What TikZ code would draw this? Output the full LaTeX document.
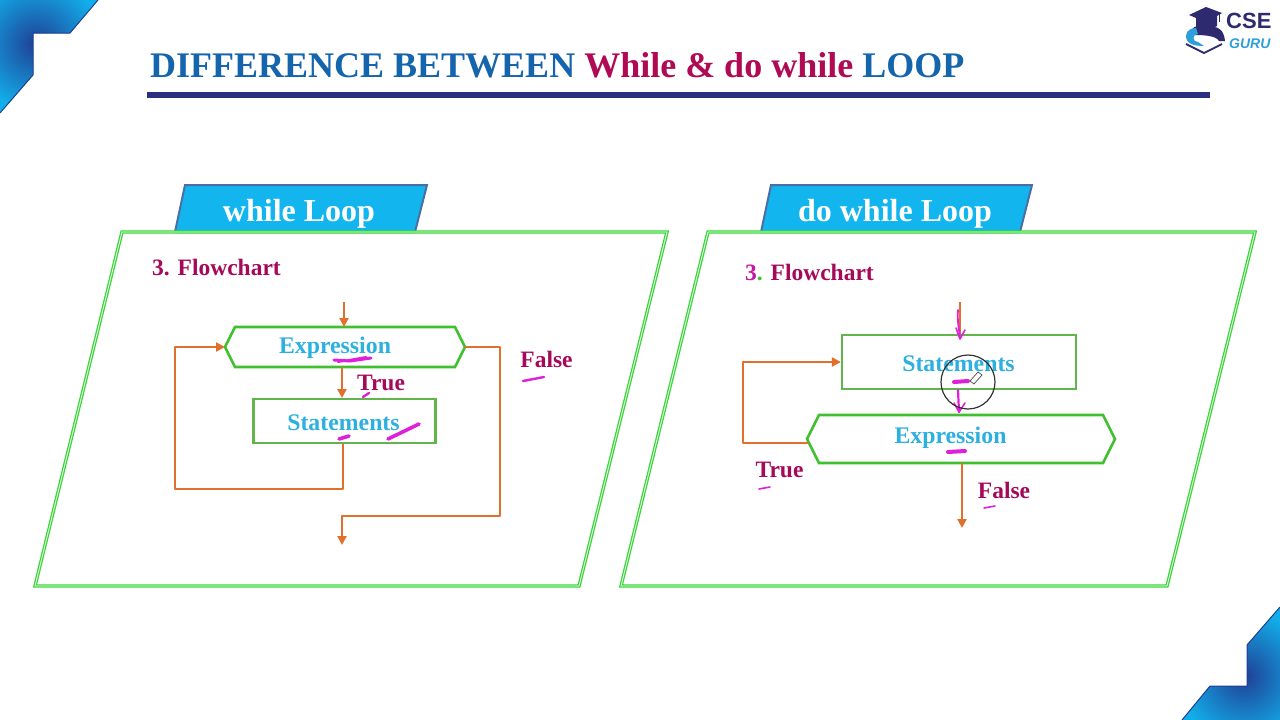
\documentclass[tikz,border=0pt]{standalone}
\usepackage{fontspec}
\setmainfont{Liberation Serif}
\newfontfamily\logosans{Liberation Sans}
\usetikzlibrary{arrows.meta,shapes.symbols,calc}
\definecolor{ttlblue}{HTML}{1565AD}
\definecolor{ttlred}{HTML}{B00A55}
\definecolor{rulenavy}{HTML}{2A2F7F}
\definecolor{frameg}{HTML}{35D835}
\definecolor{hexg}{HTML}{3FC02E}
\definecolor{boxg}{HTML}{62B54A}
\definecolor{wire}{HTML}{E0702C}
\definecolor{tabfill}{HTML}{12B5EE}
\definecolor{tabedge}{HTML}{4A6FA5}
\definecolor{nodetxt}{HTML}{2BB0E0}
\definecolor{lbl}{HTML}{A50A5A}
\definecolor{pink}{HTML}{E020D8}
\definecolor{cdark}{HTML}{1F3F95}
\definecolor{clight}{HTML}{12AEEA}
\definecolor{logonavy}{HTML}{2E2A70}
\definecolor{logocyan}{HTML}{2E9FDC}
\tikzset{
  x=1pt,y=-1pt,
  frame/.style={draw=frameg,line width=1.3pt,double=white,double distance=.8pt},
  tabshape/.style={draw=tabedge,line width=2pt,fill=tabfill},
  tabtxt/.style={text=white,font=\fontsize{32}{32}\selectfont\bfseries,inner sep=0pt},
  headtxt/.style={text=lbl,font=\fontsize{23.5}{24}\selectfont\bfseries,inner sep=0pt,anchor=west},
  labeltxt/.style={text=lbl,font=\fontsize{23.5}{24}\selectfont\bfseries,inner sep=0pt},
  bodytxt/.style={text=nodetxt,font=\fontsize{23.8}{25}\selectfont\bfseries},
  stmtbox/.style={draw=boxg,line width=2.3pt,bodytxt,inner sep=0pt},
  hexbox/.style={draw=hexg,line width=2.6pt,bodytxt,shape=signal,signal to=east and west,inner sep=0pt,outer sep=0pt},
  wireline/.style={draw=wire,line width=2.4pt,line join=round},
  wirearrow/.style={wireline,-{Triangle[length=9pt,width=9pt]}},
  scrib/.style={draw=pink,line cap=round,line join=round},
  corner/.style={draw=cdark,line width=1pt}
}
\begin{document}
\begin{tikzpicture}
\useasboundingbox (0,0) rectangle (1280,720);
\fill[white] (0,0) rectangle (1280,720);

% corners
\begin{scope}
\clip (0,0) -- (98,0) -- (70,33) -- (33,33) -- (33,75) -- (0,113) -- cycle;
\fill[clight] (0,0) rectangle (100,115);
\shade[inner color=cdark,outer color=clight] (36,44) circle[radius=66];
\end{scope}
\draw[corner] (98,0) -- (70,33) -- (33,33) -- (33,75) -- (0,113);
\begin{scope}
\clip (1280,607) -- (1247,645) -- (1247,686) -- (1210,686) -- (1182,720) -- (1280,720) -- cycle;
\fill[clight] (1180,605) rectangle (1280,720);
\shade[inner color=cdark,outer color=clight] (1244,676) circle[radius=66];
\end{scope}
\draw[corner] (1280,607) -- (1247,645) -- (1247,686) -- (1210,686) -- (1182,720);

% title
\node[anchor=west,inner sep=0pt,font=\fontsize{36}{38}\selectfont\bfseries,text=ttlblue] (title) at (150,65)
  {DIFFERENCE BETWEEN \textcolor{ttlred}{While \& do while} LOOP};
\fill[rulenavy] (147,92) rectangle (1210,98);

% logo
\fill[logonavy] (1189,15) -- (1206,7) -- (1222,13) -- (1217,16) -- (1217,26) -- (1209,30) -- (1196,27) -- (1196,18) -- cycle;
\draw[logonavy,line width=1pt] (1219,14) -- (1219,22);
\fill[logonavy] (1190,33) .. controls (1192,27) and (1197,25) .. (1199,27) -- (1214,27) .. controls (1218,27) and (1224,30) .. (1225,41) -- (1219,41) .. controls (1216,35) and (1200,35) .. (1194,35) -- cycle;
\fill[logocyan] (1186,36) .. controls (1186,30) and (1192,28) .. (1196,28) -- (1198,34) .. controls (1192,34) and (1192,42) .. (1198,42) -- (1204,46) .. controls (1194,46) and (1186,44) .. (1186,36) -- cycle;
\draw[logonavy,line width=1.8pt,line join=round] (1186,44) -- (1204,53) -- (1222,44);
\node[inner sep=0pt,anchor=west,text=logonavy,font=\logosans\bfseries\fontsize{22}{22}\selectfont] (logocse) at (1226,21) {CSE};
\node[inner sep=0pt,anchor=west,text=logocyan,font=\logosans\bfseries\itshape\fontsize{14}{14}\selectfont] (logoguru) at (1229,44) {GURU};

% panels
\draw[tabshape] (185,185) -- (427,185) -- (415,232) -- (175,232) -- cycle;
\draw[tabshape] (771,185) -- (1032,185) -- (1020,232) -- (761,232) -- cycle;
\draw[frame] (122,232) -- (667,232) -- (579,586) -- (35,586) -- cycle;
\draw[frame] (708,232) -- (1255,232) -- (1167,586) -- (621,586) -- cycle;
\node[tabtxt] (tabL) at (299,214) {while Loop};
\node[tabtxt] (tabR) at (895,214) {do while Loop};
\node[headtxt] (headL) at (152,268) {3. Flowchart};
\node[headtxt] (headR) at (745,273) {\textcolor{pink!60!lbl}{3}\textcolor{hexg}{.} Flowchart};

% left flowchart
\coordinate (inL) at (344,302);
\coordinate (outL) at (342,545);
\node[hexbox,minimum width=240pt,minimum height=40pt,signal pointer angle=127] (exprL) at (345,347) {};
\node[bodytxt,inner sep=0pt] (exprLt) at (335,348) {Expression};
\node[stmtbox,minimum width=182pt,minimum height=44pt] (stmtL) at (344.5,421) {};
\node[bodytxt,inner sep=0pt] (stmtLt) at (343.5,423) {Statements};
\draw[wirearrow] (inL) -- (inL |- exprL.north);
\draw[wirearrow] (342,367) -- (342,398);
\draw[wirearrow] (stmtL.south -| 343,0) -- (343,489) -- (175,489) -- (175,347) -- (exprL.west);
\draw[wirearrow] (exprL.east) -- (500,347) -- (500,516) -- (342,516) -- (outL);
\node[labeltxt] (trueL) at (381,383) {True};
\node[labeltxt] (falseL) at (546.5,359) {False};

% right flowchart
\coordinate (inR) at (960,302);
\coordinate (outR) at (962,528);
\node[stmtbox,minimum width=234pt,minimum height=54pt] (stmtR) at (959,362) {};
\node[bodytxt,inner sep=0pt] (stmtRt) at (958.5,364) {Statements};
\node[hexbox,minimum width=308pt,minimum height=48pt,signal pointer angle=127] (exprR) at (961,439) {};
\node[bodytxt,inner sep=0pt] (exprRt) at (950.5,438) {Expression};
\draw[wireline] (inR) -- (inR |- stmtR.north);
\draw[wirearrow] (exprR.south -| outR) -- (outR);
\draw[wirearrow] ([shift={(2,4)}]exprR.west) -- (743,443) -- (743,362) -- (stmtR.west);
\node[labeltxt] (trueR) at (779.5,470) {True};
\node[labeltxt] (falseR) at (1004,490) {False};

% pen annotations
\draw[scrib,line width=1.8pt] (958,310) .. controls (957,320) and (959,328) .. (960,338);
\draw[scrib,line width=1.6pt] (956,328) -- (960,339) -- (965,330);
\draw[scrib,line width=2.2pt] (958,390) -- (959,412);
\draw[scrib,line width=1.6pt] (954,403) -- (959,412) -- (965,403);
\draw[scrib,line width=4pt] (954,382) -- (968,381);
\draw[scrib,line width=4pt] (948,452) -- (965,451);
\draw[scrib,line width=1.6pt] (759,489) -- (770,487);
\draw[scrib,line width=1.6pt] (984,508) -- (995,506);
\draw[scrib,line width=3pt] (334,360) -- (350,361) -- (371,358);
\draw[scrib,line width=2pt] (338,362) -- (366,357);
\draw[scrib,line width=2.4pt] (363,397) -- (369,393);
\draw[scrib,line width=3.6pt] (339,439) -- (349,436);
\draw[scrib,line width=3.6pt] (388,439) -- (419,424);
\draw[scrib,line width=2.4pt] (523,381) -- (544,377);
\draw[draw=black!80,line width=1.2pt] (968,382) circle[radius=27];
\draw[draw=black!70,fill=white,line width=.7pt] (970,381) -- (978,372) -- (982,375) -- (974,384) -- cycle;
\end{tikzpicture}
\end{document}
